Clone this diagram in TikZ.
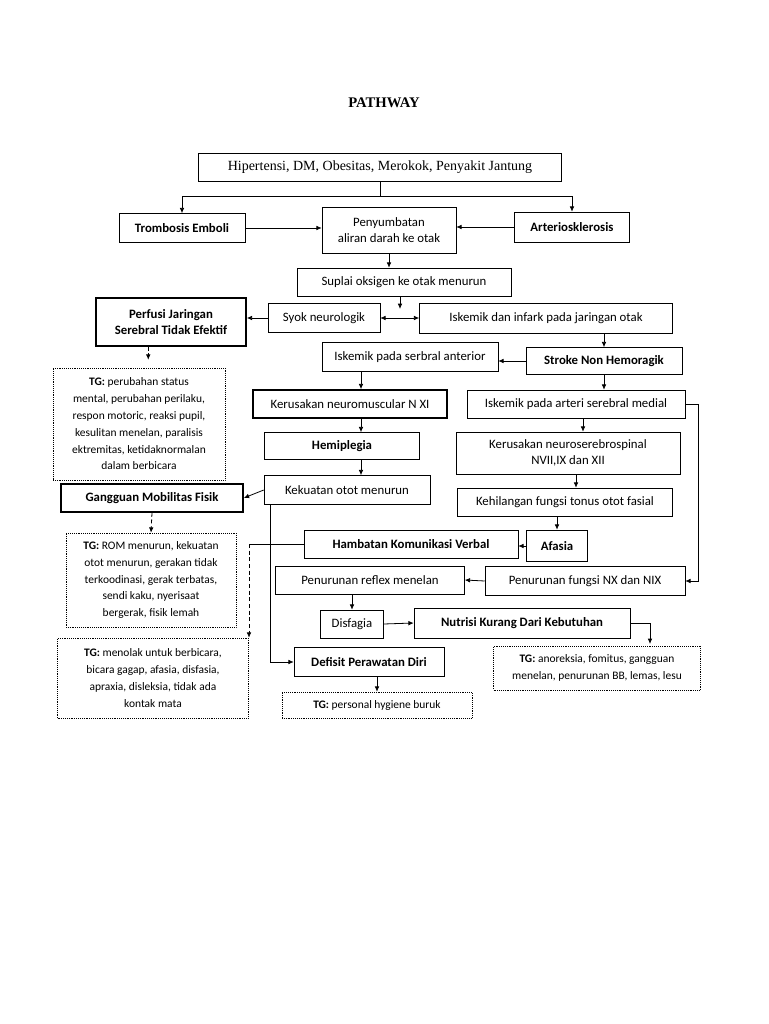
\documentclass[tikz,border=0pt]{standalone}
\usepackage{fontspec}
\setmainfont{Carlito}
\newfontfamily\titlefont{Liberation Serif}
\usetikzlibrary{arrows.meta, positioning}

\begin{document}
\begin{tikzpicture}[
    x=0.75pt, y=-0.75pt,
    box/.style={rectangle, draw=black, fill=white, align=center, inner sep=1pt, font=\fontsize{9.6}{12.5}\selectfont},
    bbox/.style={box, font=\fontsize{9.6}{12.5}\selectfont\bfseries},
    tbox/.style={bbox, line width=1.2pt},
    tg/.style={rectangle, draw=black, densely dotted, align=center, inner sep=2pt, font=\fontsize{8.6}{12.6}\selectfont},
    arrow/.style={-{Latex[length=4pt, width=3.5pt]}, line width=0.6pt},
    dasharrow/.style={arrow, densely dashed},
    line/.style={line width=0.6pt}
    ]
    \useasboundingbox (0,0) rectangle (768,1024);

    % Title and causes
    \node[font=\titlefont\fontsize{11}{13}\selectfont\bfseries] (title) at (384,103) {PATHWAY};
    \node[box, font=\titlefont\fontsize{10.5}{12}\selectfont, minimum width=363*0.75pt, minimum height=28*0.75pt] (hip) at (380,167) {Hipertensi, DM, Obesitas, Merokok, Penyakit Jantung};
    \node[bbox, minimum width=126*0.75pt, minimum height=29*0.75pt] (trom) at (182,228) {Trombosis Emboli};
    \node[box, minimum width=134*0.75pt, minimum height=46*0.75pt] (peny) at (389,230) {Penyumbatan\\aliran darah ke otak};
    \node[bbox, minimum width=115*0.75pt, minimum height=30*0.75pt] (arte) at (572,227) {Arteriosklerosis};
    \node[box, minimum width=214*0.75pt, minimum height=28*0.75pt] (suplai) at (404,282) {Suplai oksigen ke otak menurun};

    % Middle row
    \node[tbox, minimum width=150*0.75pt, minimum height=48*0.75pt] (perfusi) at (171,322) {Perfusi Jaringan\\Serebral Tidak Efektif};
    \node[box, minimum width=112*0.75pt, minimum height=29*0.75pt] (syok) at (324,318) {Syok neurologik};
    \node[box, minimum width=253*0.75pt, minimum height=30*0.75pt] (infark) at (546,318) {Iskemik dan infark pada jaringan otak};
    \node[box, minimum width=176*0.75pt, minimum height=29*0.75pt] (anterior) at (410,357) {Iskemik pada serbral anterior};
    \node[bbox, minimum width=156*0.75pt, minimum height=27*0.75pt] (stroke) at (604,361) {Stroke Non Hemoragik};
    \node[tg, minimum width=172*0.75pt, minimum height=112*0.75pt] (tgperfusi) at (139,424) {\textbf{TG:} perubahan status\\mental, perubahan perilaku,\\respon motoric, reaksi pupil,\\kesulitan menelan, paralisis\\ektremitas, ketidaknormalan\\dalam berbicara};

    % Left branch
    \node[box, line width=1.2pt, minimum width=194*0.75pt, minimum height=28*0.75pt] (neuromus) at (350,404) {Kerusakan neuromuscular N XI};
    \node[bbox, minimum width=155*0.75pt, minimum height=27*0.75pt] (hemi) at (342,446) {Hemiplegia};
    \node[box, minimum width=166*0.75pt, minimum height=29*0.75pt] (kekuatan) at (347,490) {Kekuatan otot menurun};
    \node[tbox, minimum width=182*0.75pt, minimum height=28*0.75pt] (mobilitas) at (152,498) {Gangguan Mobilitas Fisik};
    \node[tg, minimum width=170*0.75pt, minimum height=94*0.75pt] (tgmobilitas) at (151,580) {\textbf{TG:} ROM menurun, kekuatan\\otot menurun, gerakan tidak\\terkoodinasi, gerak terbatas,\\sendi kaku, nyerisaat\\bergerak, fisik lemah};

    % Right branch
    \node[box, minimum width=218*0.75pt, minimum height=28*0.75pt] (medial) at (576,404) {Iskemik pada arteri serebral medial};
    \node[box, minimum width=224*0.75pt, minimum height=42*0.75pt] (neuroser) at (568,453) {Kerusakan neuroserebrospinal\\NVII,IX dan XII};
    \node[box, minimum width=215*0.75pt, minimum height=28*0.75pt] (tonus) at (565,502) {Kehilangan fungsi tonus otot fasial};
    \node[tbox, minimum width=61*0.75pt, minimum height=31*0.75pt] (afasia) at (557,546) {Afasia};
    \node[bbox, minimum width=214*0.75pt, minimum height=28*0.75pt] (verbal) at (411,544) {Hambatan Komunikasi Verbal};
    \node[box, minimum width=200*0.75pt, minimum height=29*0.75pt] (nx) at (585,581) {Penurunan fungsi NX dan NIX};
    \node[box, minimum width=189*0.75pt, minimum height=28*0.75pt] (reflex) at (370,580) {Penurunan reflex menelan};
    \node[box, minimum width=63*0.75pt, minimum height=28*0.75pt] (disfagia) at (352,624) {Disfagia};
    \node[bbox, minimum width=216*0.75pt, minimum height=30*0.75pt] (nutrisi) at (522,623) {Nutrisi Kurang Dari Kebutuhan};

    % Bottom
    \node[tg, minimum width=191*0.75pt, minimum height=80*0.75pt] (tgverbal) at (153,678) {\textbf{TG:} menolak untuk berbicara,\\bicara gagap, afasia, disfasia,\\apraxia, disleksia, tidak ada\\kontak mata};
    \node[bbox, minimum width=150*0.75pt, minimum height=29*0.75pt] (defisit) at (369,662) {Defisit Perawatan Diri};
    \node[tg, minimum width=207*0.75pt, minimum height=44*0.75pt] (tgnutrisi) at (597,668) {\textbf{TG:} anoreksia, fomitus, gangguan\\menelan, penurunan BB, lemas, lesu};
    \node[tg, minimum width=190*0.75pt, minimum height=26*0.75pt] (tgdefisit) at (377,705) {\textbf{TG:} personal hygiene buruk};

    % Connectors
    \coordinate (split) at (380,196);
    \draw[line] (hip.south) -- (split);
    \draw[arrow] (split) -| (trom.north);
    \draw[arrow] (split) -| (arte.north);
    \draw[arrow] (trom.east) -- (trom.east -| peny.west);
    \draw[arrow] (arte.west) -- (arte.west -| peny.east);
    \draw[arrow] (peny.south) -- (peny.south |- suplai.north);
    \coordinate (mid) at (400,309);
    \draw[arrow] (suplai.south -| mid) -- (mid);
    \draw[{Latex[length=4pt, width=3.5pt]}-{Latex[length=4pt, width=3.5pt]}, line width=0.6pt] (syok.east) -- (infark.west);
    \draw[arrow] (syok.west) -- (syok.west -| perfusi.east);
    \draw[dasharrow] (perfusi.south -| tgperfusi.north east) ++(-77,0) -- ++(0,13);
    \draw[arrow] (infark.south -| stroke.north) -- (stroke.north);
    \draw[arrow] (stroke.west) -- (stroke.west -| anterior.east);
    \draw[arrow] (anterior.south -| 361,0) -- (neuromus.north -| 361,0);
    \draw[arrow] (stroke.south) -- (medial.north -| stroke.south);
    \draw[arrow] (neuromus.south -| 361,0) -- (hemi.north -| 361,0);
    \draw[arrow] (hemi.south -| 361,0) -- (kekuatan.north -| 361,0);
    \draw[arrow] (kekuatan.west) -- (mobilitas.east);
    \draw[dasharrow] (mobilitas.south) -- (tgmobilitas.north);
    \draw[arrow] (kekuatan.south -| 270,0) |- (defisit.west);
    \draw[arrow] (medial.east) -- ++(13,0) |- (nx.east);
    \draw[arrow] (medial.south -| 583,0) -- (neuroser.north -| 583,0);
    \draw[arrow] (neuroser.south -| 576,0) -- (tonus.north -| 576,0);
    \draw[arrow] (tonus.south -| afasia.north) -- (afasia.north);
    \draw[arrow] (afasia.west) -- (afasia.west -| verbal.east);
    \coordinate (vbend) at (249,544);
    \draw[line] (verbal.west) -- (vbend);
    \draw[dasharrow] (vbend) -- (tgverbal.north -| vbend);
    \draw[arrow] (nx.west) -- (reflex.east);
    \draw[arrow] (reflex.south -| disfagia.north) -- (disfagia.north);
    \draw[arrow] (disfagia.east) -- (nutrisi.west);
    \draw[arrow] (nutrisi.east) -| (650,644);
    \draw[arrow] (defisit.south -| tgdefisit.north) -- (tgdefisit.north);
\end{tikzpicture}
\end{document}
